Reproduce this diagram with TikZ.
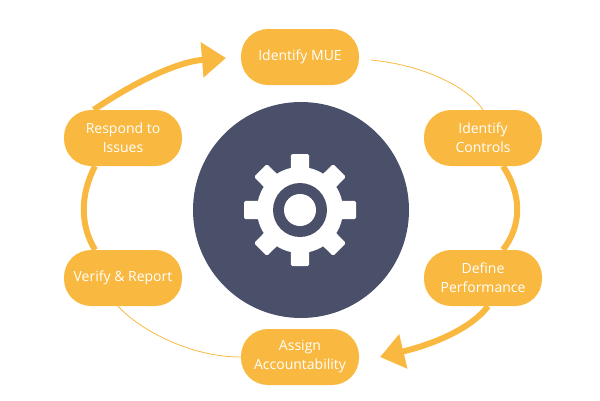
\documentclass[tikz,border=0pt]{standalone}
\usepackage{fontspec}
\setmainfont{Open Sans}
\usetikzlibrary{arrows.meta}
\definecolor{org}{HTML}{F9B940}
\definecolor{dk}{HTML}{4A5069}
\begin{document}
\begin{tikzpicture}[x=1pt,y=-1pt,
 pill/.style={fill=org,rounded corners=27pt,minimum width=118pt,minimum height=56pt,text=white,align=center,font=\fontsize{14}{19}\selectfont,inner sep=2pt},
 thickarc/.style={draw=org,line width=6pt},
 thinarc/.style={draw=org,line width=0.8pt},
 tip/.style={-{Triangle[length=24pt,width=34pt]}}]
\useasboundingbox (0,0) rectangle (600,400);
\fill[dk] (301,210) circle (108);
% gear
\begin{scope}[shift={(300,210)}]
\fill[white] (0,0) circle (43);
\foreach \a in {0,45,...,315}
  \fill[white,rotate=\a,rounded corners=1.5pt] (-10,0) -- (-9,-56) -- (9,-56) -- (10,0) -- cycle;
\fill[dk] (0,0) circle (27);
\fill[white] (0,0) circle (16);
\end{scope}
\node[pill] (mue) at (300,57) {Identify MUE};
\node[pill] (ctl) at (483,138) {Identify\\Controls};
\node[pill] (perf) at (483,278) {Define\\Performance};
\node[pill] (acc) at (300,357) {Assign\\Accountability};
\node[pill] (ver) at (123,278) {Verify \& Report};
\node[pill] (res) at (123,138) {Respond to\\Issues};
\coordinate (t1) at (226,58);
\coordinate (t2) at (380,357);
\draw[thickarc,tip] (res.north west) ++(30,0) .. controls (130,85) and (175,62) .. (t1);
\draw[thinarc] (mue.east) ++(12,3) .. controls (430,66) and (470,90) .. (ctl.north);
\draw[thickarc] (ctl.south) ++(20,0) .. controls (522,195) and (522,225) .. ([xshift=20pt]perf.north);
\draw[thickarc,tip] (perf.south) ++(5,0) .. controls (470,330) and (430,345) .. (t2);
\draw[thinarc] (acc.west) .. controls (190,357) and (140,330) .. ([xshift=-5pt]ver.south);
\draw[thickarc] (ver.north) ++(-28,0) .. controls (80,225) and (80,195) .. ([xshift=-28pt]res.south);
\end{tikzpicture}
\end{document}
